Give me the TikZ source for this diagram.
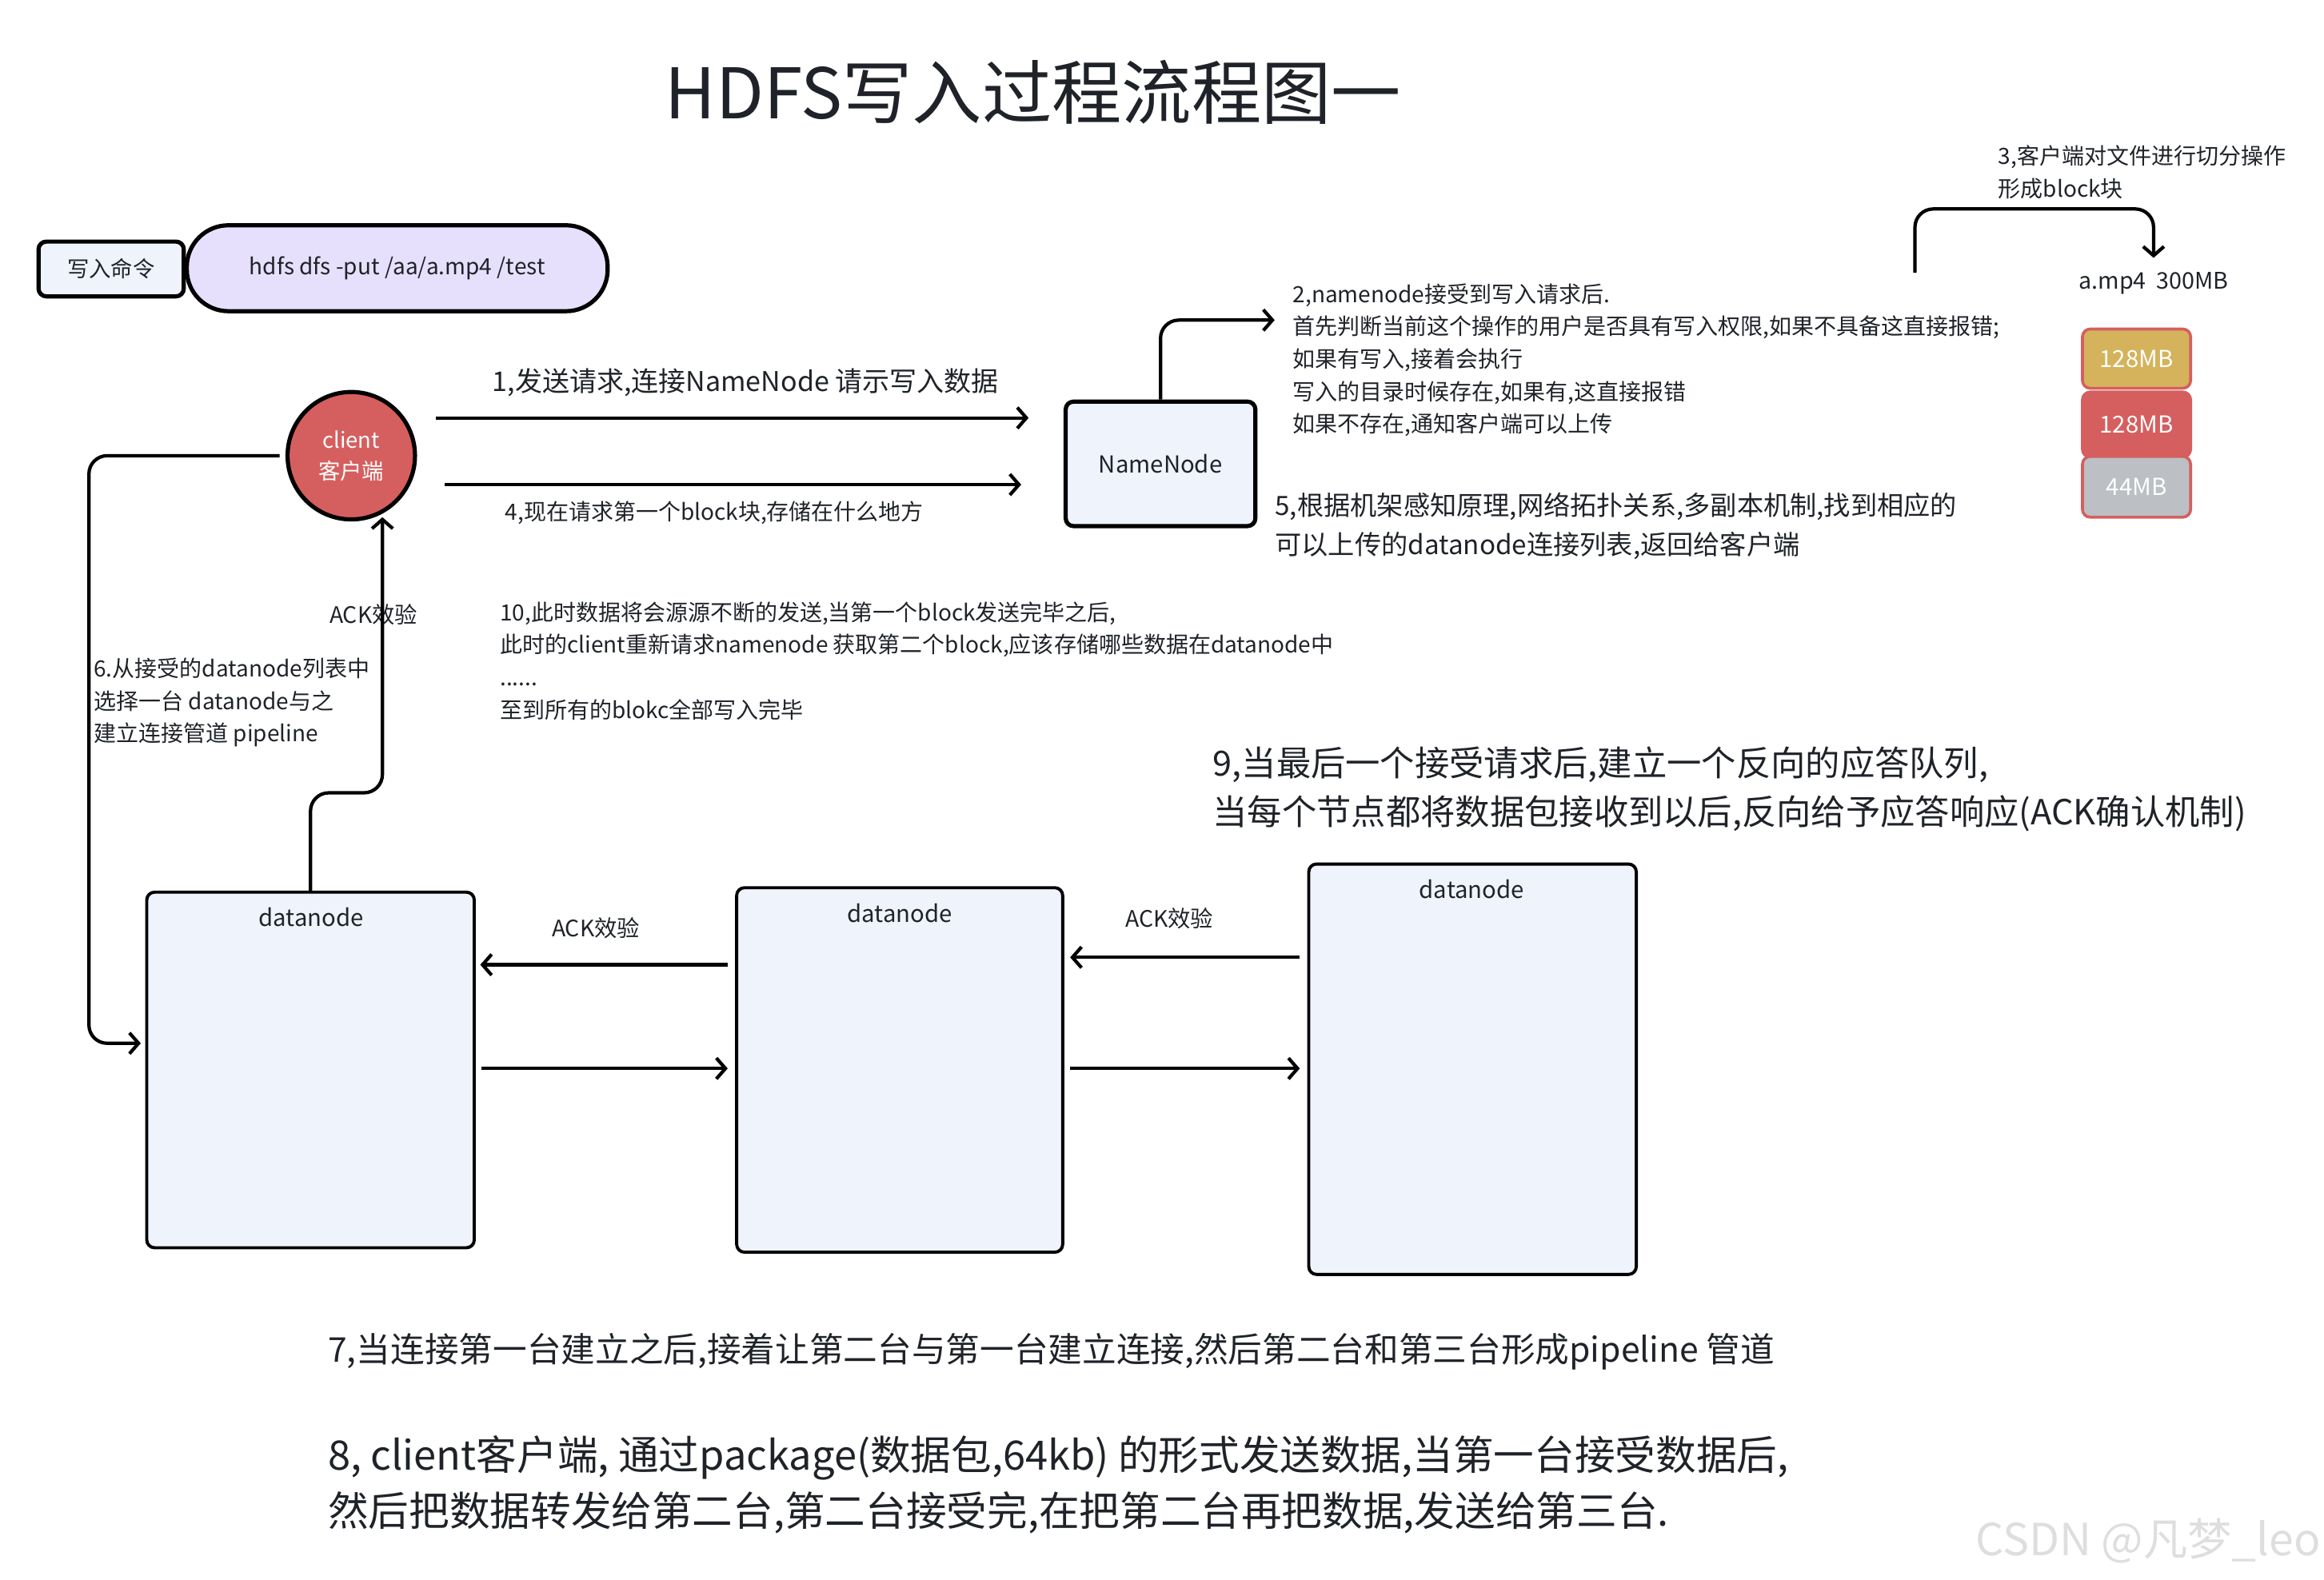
\documentclass[tikz,border=0pt]{standalone}
\usepackage{fontspec}
\setmainfont{Noto Sans CJK SC}
\usetikzlibrary{arrows.meta}
\definecolor{txt}{HTML}{1F2329}
\definecolor{nblue}{RGB}{239,243,252}
\definecolor{lav}{RGB}{231,224,252}
\definecolor{cred}{RGB}{213,95,95}
\definecolor{gold}{RGB}{212,179,92}
\definecolor{bgray}{RGB}{188,191,196}
\definecolor{wm}{RGB}{222,222,222}
\newcommand\fs[2]{\fontsize{#1pt}{#2pt}\selectfont}
\begin{document}
\begin{tikzpicture}[x=0.02cm,y=-0.02cm,
  conn/.style={line width=1.3pt, draw=black, -{Straight Barb[length=3.5pt,width=8pt]}, rounded corners=7pt},
  boxn/.style={draw=black, line width=1.6pt, fill=nblue, rounded corners=3pt, inner sep=0pt, text=txt},
  dnbox/.style={draw=black, line width=1.2pt, fill=nblue, rounded corners=3pt, inner sep=0pt},
  lbl/.style={text=txt, inner sep=0pt},
  blk/.style={draw=cred, line width=1.1pt, rounded corners=3pt, text=white, minimum width=1.46cm, inner sep=0pt, font=\fs{9}{11}}
]
\useasboundingbox (0,0) rectangle (1568,1066);

% title
\node[lbl, font=\fs{26.8}{32}] (title) at (697,62) {HDFS写入过程流程图一};

% command
\node[boxn, minimum width=1.96cm, minimum height=0.74cm, font=\fs{8.4}{10}] (cmd) at (75,181.5) {写入命令};
\node[boxn, fill=lav, rounded corners=16pt, minimum width=5.68cm, minimum height=1.16cm, font=\fs{8.6}{11}] (pill) at (268,181) {hdfs dfs -put /aa/a.mp4 /test};

% client
\node[circle, draw=black, line width=1.6pt, fill=cred, minimum size=1.72cm, text=white, align=center, font=\fs{8.4}{12}, inner sep=0pt] (client) at (237,307.5) {client\\客户端};

% NameNode
\node[boxn, minimum width=2.56cm, minimum height=1.68cm, font=\fs{9}{11}] (nn) at (783,313) {NameNode};

% datanodes
\node[dnbox, minimum width=4.42cm, minimum height=4.8cm] (dn1) at (209.5,722) {};
\node[dnbox, minimum width=4.4cm, minimum height=4.92cm] (dn2) at (607,722) {};
\node[dnbox, minimum width=4.42cm, minimum height=5.54cm] (dn3) at (993.5,721.5) {};
\node[lbl, font=\fs{9}{11}] (dn1t) at (210,619) {datanode};
\node[lbl, font=\fs{9}{11}] (dn2t) at (607,616) {datanode};
\node[lbl, font=\fs{9}{11}] (dn3t) at (993,600) {datanode};

% file blocks
\node[lbl, font=\fs{8.8}{11}] (amp) at (1453,191) {a.mp4\ \ 300MB};
\node[blk, fill=gold, minimum height=0.8cm] (b1) at (1441.5,242) {128MB};
\node[blk, fill=cred, minimum height=0.88cm] (b2) at (1441.5,286.5) {128MB};
\node[blk, fill=bgray, minimum height=0.82cm] (b3) at (1441.5,328.5) {44MB};

% labels
\node[lbl, font=\fs{10.45}{13}] (l1) at (503,258) {1,发送请求,连接NameNode 请示写入数据};
\node[lbl, font=\fs{8.6}{11}] (l4) at (482,346) {4,现在请求第一个block块,存储在什么地方};
\node[lbl, font=\fs{8.6}{12.5}, anchor=west, align=left] (t2) at (872,243) {2,namenode接受到写入请求后.\\首先判断当前这个操作的用户是否具有写入权限,如果不具备这直接报错;\\如果有写入,接着会执行\\写入的目录时候存在,如果有,这直接报错\\如果不存在,通知客户端可以上传};
\node[lbl, font=\fs{10.2}{14.8}, anchor=west, align=left] (t5) at (860,355) {5,根据机架感知原理,网络拓扑关系,多副本机制,找到相应的\\可以上传的datanode连接列表,返回给客户端};
\node[lbl, font=\fs{8.6}{12.5}, anchor=west, align=left] (t3) at (1348,116) {3,客户端对文件进行切分操作\\形成block块};
\node[lbl, font=\fs{8.7}{11}] (ackc) at (252,415) {ACK效验};
\node[lbl, font=\fs{8.6}{12.5}, anchor=west, align=left] (t6) at (63,474) {6.从接受的datanode列表中\\选择一台 datanode与之\\建立连接管道 pipeline};
\node[lbl, font=\fs{8.6}{12.5}, anchor=west, align=left] (t10) at (337,446) {10,此时数据将会源源不断的发送,当第一个block发送完毕之后,\\此时的client重新请求namenode 获取第二个block,应该存储哪些数据在datanode中\\......\\至到所有的blokc全部写入完毕};
\node[lbl, font=\fs{13.3}{18.8}, anchor=west, align=left] (t9) at (818,532.5) {9,当最后一个接受请求后,建立一个反向的应答队列,\\当每个节点都将数据包接收到以后,反向给予应答响应(ACK确认机制)};
\node[lbl, font=\fs{8.7}{11}] (ack1) at (402,626) {ACK效验};
\node[lbl, font=\fs{8.7}{11}] (ack2) at (789,620) {ACK效验};
\node[lbl, font=\fs{13.1}{16}, anchor=west] (t7) at (221,912) {7,当连接第一台建立之后,接着让第二台与第一台建立连接,然后第二台和第三台形成pipeline 管道};
\node[lbl, font=\fs{15.55}{21.6}, anchor=west, align=left] (t8) at (221,1002) {8, client客户端, 通过package(数据包,64kb) 的形式发送数据,当第一台接受数据后,\\然后把数据转发给第二台,第二台接受完,在把第二台再把数据,发送给第三台.};
\node[text=wm, inner sep=0pt, font=\fs{17}{20}, anchor=east] (wmk) at (1566,1040) {CSDN @凡梦\_leo};

% coordinates
\coordinate (a1s) at (294,282);
\coordinate (a1e) at (694,282);
\coordinate (a4s) at (300,327);
\coordinate (a4e) at (689,327);
\coordinate (t2a) at (860,216);
\coordinate (c3s) at (1292,184);
\coordinate (c3m) at (1453,141);
\coordinate (c3e) at (1453,174);
\coordinate (clin) at (258,349);
\coordinate (lw) at (60,704);
\coordinate (l6e) at (95,704);
\coordinate (yack1) at (0,651);
\coordinate (yack2) at (0,646);
\coordinate (yfw) at (0,721);

% connectors
\draw[conn] (a1s) -- (a1e);
\draw[conn] (a4s) -- (a4e);
\draw[conn] (nn.north) |- (t2a);
\draw[conn] (c3s) |- (c3m) -- (c3e);
\draw[conn] (dn1.north) -- ++(0,-66) -| (clin);
\draw[conn] ([xshift=-0.08cm]client.west) -| (lw) -- (l6e);
\draw[conn, shorten <=0.1cm, shorten >=0.06cm] (dn2.west |- yack1) -- (dn1.east |- yack1);
\draw[conn, shorten <=0.08cm, shorten >=0.1cm] (dn1.east |- yfw) -- (dn2.west |- yfw);
\draw[conn, shorten <=0.1cm, shorten >=0.08cm] (dn3.west |- yack2) -- (dn2.east |- yack2);
\draw[conn, shorten <=0.08cm, shorten >=0.1cm] (dn2.east |- yfw) -- (dn3.west |- yfw);
\end{tikzpicture}
\end{document}
